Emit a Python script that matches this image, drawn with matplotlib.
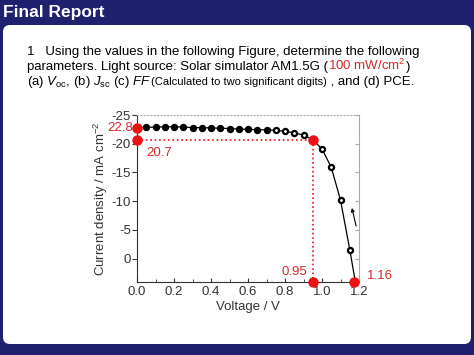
import matplotlib.pyplot as plt
from matplotlib.patches import FancyBboxPatch

plt.rcParams['font.family'] = ['Liberation Sans', 'DejaVu Sans']
plt.rcParams['axes.unicode_minus'] = False
plt.rcParams['mathtext.fontset'] = 'custom'
plt.rcParams['mathtext.rm'] = 'Liberation Sans'
plt.rcParams['mathtext.it'] = 'Liberation Sans:italic'

navy = '#1f206e'
red = '#ee1111'
red_txt = '#d42a2a'

# J-V data
voltage = [0.00, 0.05, 0.10, 0.15, 0.20, 0.25, 0.30, 0.35, 0.40, 0.45,
           0.50, 0.55, 0.60, 0.65, 0.70, 0.75, 0.80, 0.85, 0.90, 0.95,
           1.00, 1.05, 1.10, 1.15]
current = [-22.8, -22.85, -22.9, -22.95, -22.95, -22.9, -22.8, -22.8, -22.75, -22.7,
           -22.65, -22.55, -22.5, -22.45, -22.4, -22.35, -22.15, -21.9, -21.5, -20.7,
           -19.1, -15.9, -10.2, -1.6]
# fitted curve continues to the axis bottom
curve_v = voltage + [1.18]
curve_j = current + [4.0]

jsc, jmp, vmp, voc = 22.8, 20.7, 0.95, 1.16
voc_pos = 1.175
y_bottom = 4

fig = plt.figure(figsize=(4.74, 3.55), dpi=100, facecolor=navy)

# slide background
bg = fig.add_axes([0, 0, 1, 1])
bg.set_xlim(0, 474)
bg.set_ylim(355, 0)
bg.axis('off')
bg.add_patch(FancyBboxPatch((3, 25), 468, 319, boxstyle='round,pad=0,rounding_size=7',
                            facecolor='white', edgecolor='none'))
bg.text(3, 12, 'Final Report', color='white', fontsize=12.5, fontweight='bold',
        va='center', ha='left')

fig.canvas.draw()
renderer = fig.canvas.get_renderer()


def put(x, y, s, **kw):
    t = bg.text(x, y, s, va='baseline', ha='left', **kw)
    return x + t.get_window_extent(renderer).width


fs = 9.5
put(27, 55, '1   Using the values in the following Figure, determine the following',
    fontsize=fs, color='black')
x = put(27, 70, 'parameters. Light source: Solar simulator AM1.5G (', fontsize=fs)
x = put(x, 70, r'100 mW/cm$^2$', fontsize=fs, color=red_txt)
put(x, 70, ')', fontsize=fs)
x = put(27, 85, r'(a) $V_{\rm oc}$, (b) $J_{\rm sc}$ (c) $FF$ ', fontsize=fs)
x = put(x, 85, '(Calculated to two significant digits)', fontsize=8)
put(x, 85, ' , and (d) PCE.', fontsize=fs)

# chart
ax = fig.add_axes([137 / 474, 1 - 281.7 / 355, 222 / 474, 166.7 / 355])
ax.plot(curve_v, curve_j, color='black', lw=0.9, zorder=2)
ax.plot(voltage, current, 'o', color='black', ms=4.3, zorder=3)
hi_v = [v for v in voltage if v >= 0.75]
hi_j = [j for v, j in zip(voltage, current) if v >= 0.75]
ax.plot(hi_v, hi_j, 'o', color='white', ms=1.0, zorder=4)

# red guide lines and points
ax.plot([0, vmp], [-jmp, -jmp], ':', color=red, lw=1.2, zorder=2)
ax.plot([vmp, vmp], [-jmp, y_bottom], ':', color=red, lw=1.2, zorder=2)
ax.plot([0, 0, vmp, vmp, voc_pos], [-jsc, -jmp, -jmp, y_bottom, y_bottom], 'o',
        color=red, ms=6.5, zorder=5, clip_on=False)
ax.text(-0.02, -jsc, f'{jsc}', color=red_txt, fontsize=9.5, ha='right', va='center')
ax.text(0.05, -jmp + 2.3, f'{jmp}', color=red_txt, fontsize=9.5, ha='left', va='center')
ax.text(vmp - 0.03, 2.3, f'{vmp}', color=red_txt, fontsize=9.5, ha='right', va='center')
ax.text(voc_pos + 0.07, 3.0, f'{voc}', color=red_txt, fontsize=9.5, ha='left', va='center')

# scan direction arrow
ax.annotate('', xy=(1.158, -9.3), xytext=(1.188, -5.2),
            arrowprops=dict(arrowstyle='-|>', color='black', lw=0.8, mutation_scale=5))

ax.set_xlim(0, 1.2)
ax.set_ylim(y_bottom, -25)
ax.set_xticks([0.0, 0.2, 0.4, 0.6, 0.8, 1.0, 1.2])
ax.set_xticklabels(['0.0', '0.2', '0.4', '0.6', '0.8', '1.0', '1.2'])
ax.set_xticks([0.1, 0.3, 0.5, 0.7, 0.9, 1.1], minor=True)
ax.set_yticks([-25, -20, -15, -10, -5, 0])
ax.tick_params(axis='x', direction='in', length=3, labelsize=9.5, colors='#333333', pad=3)
ax.tick_params(axis='x', which='minor', direction='in', length=2, color='#333333')
ax.tick_params(axis='y', direction='out', length=3.5, labelsize=9.5, colors='#333333', pad=1)
for s in ['left', 'bottom']:
    ax.spines[s].set_color('#333333')
ax.spines['right'].set_color('#aaaaaa')
ax.spines['top'].set_linestyle((0, (1, 2)))
ax.spines['top'].set_color('#aaaaaa')

# small inward ticks on the right spine
ax2 = ax.twinx()
ax2.set_ylim(ax.get_ylim())
ax2.set_yticks([-25, -20, -15, -10, -5, 0])
ax2.tick_params(axis='y', direction='in', length=3, color='#aaaaaa', labelright=False)
for s in ax2.spines.values():
    s.set_visible(False)

ax.set_xlabel('Voltage / V', fontsize=9.5, color='#333333', labelpad=2)
ax.set_ylabel('Current density / mA cm$^{-2}$', fontsize=9.5, color='#333333', labelpad=1)

fig.savefig('out.png', dpi=100, facecolor=navy)
